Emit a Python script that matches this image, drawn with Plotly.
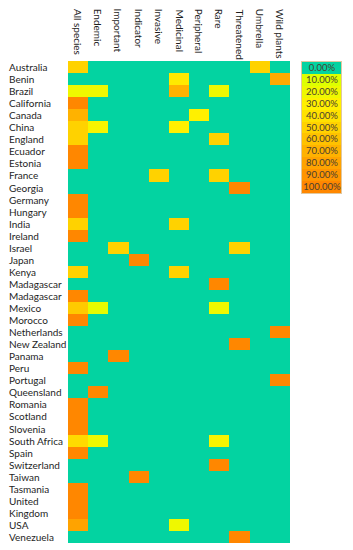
import plotly.graph_objects as go

countries = ["Australia", "Benin", "Brazil", "California", "Canada", "China", "England",
             "Ecuador", "Estonia", "France", "Georgia", "Germany", "Hungary", "India",
             "Ireland", "Israel", "Japan", "Kenya", "Madagascar", "Madagascar", "Mexico",
             "Morocco", "Netherlands", "New Zealand", "Panama", "Peru", "Portugal",
             "Queensland", "Romania", "Scotland", "Slovenia", "South Africa", "Spain",
             "Switzerland", "Taiwan", "Tasmania", "United<br>Kingdom", "USA", "Venezuela"]

categories = ["All species", "Endemic", "Important", "Indicator", "Invasive", "Medicinal",
              "Peripheral", "Rare", "Threatened", "Umbrella", "Wild plants"]

#               Aus  Ben  Bra  Cal  Can  Chi  Eng  Ecu  Est  Fra  Geo  Ger  Hun  Ind  Ire  Isr  Jap  Ken  Mad  Mad  Mex  Mor  Net  NZ   Pan  Per  Por  Que  Rom  Sco  Slo  SAf  Spa  Swi  Tai  Tas  UK   USA  Ven
all_species = [0.5, 0.0, 0.2, 1.0, 0.7, 0.5, 0.5, 1.0, 1.0, 0.0, 0.0, 1.0, 1.0, 0.5, 1.0, 0.0, 0.0, 0.5, 0.0, 1.0, 0.55, 1.0, 0.0, 0.0, 0.0, 1.0, 0.0, 0.0, 1.0, 1.0, 1.0, 0.45, 1.0, 0.0, 0.0, 1.0, 1.0, 0.8, 0.0]
endemic     = [0.0, 0.0, 0.2, 0.0, 0.0, 0.25, 0.0, 0.0, 0.0, 0.0, 0.0, 0.0, 0.0, 0.0, 0.0, 0.0, 0.0, 0.0, 0.0, 0.0, 0.15, 0.0, 0.0, 0.0, 0.0, 0.0, 0.0, 1.0, 0.0, 0.0, 0.0, 0.2, 0.0, 0.0, 0.0, 0.0, 0.0, 0.0, 0.0]
important   = [0.0, 0.0, 0.0, 0.0, 0.0, 0.0, 0.0, 0.0, 0.0, 0.0, 0.0, 0.0, 0.0, 0.0, 0.0, 0.5, 0.0, 0.0, 0.0, 0.0, 0.0, 0.0, 0.0, 0.0, 1.0, 0.0, 0.0, 0.0, 0.0, 0.0, 0.0, 0.0, 0.0, 0.0, 0.0, 0.0, 0.0, 0.0, 0.0]
indicator   = [0.0, 0.0, 0.0, 0.0, 0.0, 0.0, 0.0, 0.0, 0.0, 0.0, 0.0, 0.0, 0.0, 0.0, 0.0, 0.0, 1.0, 0.0, 0.0, 0.0, 0.0, 0.0, 0.0, 0.0, 0.0, 0.0, 0.0, 0.0, 0.0, 0.0, 0.0, 0.0, 0.0, 0.0, 1.0, 0.0, 0.0, 0.0, 0.0]
invasive    = [0.0, 0.0, 0.0, 0.0, 0.0, 0.0, 0.0, 0.0, 0.0, 0.5, 0.0, 0.0, 0.0, 0.0, 0.0, 0.0, 0.0, 0.0, 0.0, 0.0, 0.0, 0.0, 0.0, 0.0, 0.0, 0.0, 0.0, 0.0, 0.0, 0.0, 0.0, 0.0, 0.0, 0.0, 0.0, 0.0, 0.0, 0.0, 0.0]
medicinal   = [0.0, 0.35, 0.7, 0.0, 0.0, 0.3, 0.0, 0.0, 0.0, 0.0, 0.0, 0.0, 0.0, 0.5, 0.0, 0.0, 0.0, 0.5, 0.0, 0.0, 0.0, 0.0, 0.0, 0.0, 0.0, 0.0, 0.0, 0.0, 0.0, 0.0, 0.0, 0.0, 0.0, 0.0, 0.0, 0.0, 0.0, 0.2, 0.0]
peripheral  = [0.0, 0.0, 0.0, 0.0, 0.3, 0.0, 0.0, 0.0, 0.0, 0.0, 0.0, 0.0, 0.0, 0.0, 0.0, 0.0, 0.0, 0.0, 0.0, 0.0, 0.0, 0.0, 0.0, 0.0, 0.0, 0.0, 0.0, 0.0, 0.0, 0.0, 0.0, 0.0, 0.0, 0.0, 0.0, 0.0, 0.0, 0.0, 0.0]
rare        = [0.0, 0.0, 0.2, 0.0, 0.0, 0.0, 0.5, 0.0, 0.0, 0.5, 0.0, 0.0, 0.0, 0.0, 0.0, 0.0, 0.0, 0.0, 1.0, 0.0, 0.2, 0.0, 0.0, 0.0, 0.0, 0.0, 0.0, 0.0, 0.0, 0.0, 0.0, 0.25, 0.0, 1.0, 0.0, 0.0, 0.0, 0.0, 0.0]
threatened  = [0.0, 0.0, 0.0, 0.0, 0.0, 0.0, 0.0, 0.0, 0.0, 0.0, 1.0, 0.0, 0.0, 0.0, 0.0, 0.5, 0.0, 0.0, 0.0, 0.0, 0.0, 0.0, 0.0, 1.0, 0.0, 0.0, 0.0, 0.0, 0.0, 0.0, 0.0, 0.0, 0.0, 0.0, 0.0, 0.0, 0.0, 0.0, 1.0]
umbrella    = [0.5, 0.0, 0.0, 0.0, 0.0, 0.0, 0.0, 0.0, 0.0, 0.0, 0.0, 0.0, 0.0, 0.0, 0.0, 0.0, 0.0, 0.0, 0.0, 0.0, 0.0, 0.0, 0.0, 0.0, 0.0, 0.0, 0.0, 0.0, 0.0, 0.0, 0.0, 0.0, 0.0, 0.0, 0.0, 0.0, 0.0, 0.0, 0.0]
wild_plants = [0.0, 0.75, 0.0, 0.0, 0.0, 0.0, 0.0, 0.0, 0.0, 0.0, 0.0, 0.0, 0.0, 0.0, 0.0, 0.0, 0.0, 0.0, 0.0, 0.0, 0.0, 0.0, 1.0, 0.0, 0.0, 0.0, 1.0, 0.0, 0.0, 0.0, 0.0, 0.0, 0.0, 0.0, 0.0, 0.0, 0.0, 0.0, 0.0]

scale_values = [0.0, 0.1, 0.2, 0.3, 0.4, 0.5, 0.6, 0.7, 0.8, 0.9, 1.0]

columns = [all_species, endemic, important, indicator, invasive, medicinal,
           peripheral, rare, threatened, umbrella, wild_plants]
z = [[col[i] for col in columns] for i in range(len(countries))]

# row edges: wrapped labels occupy one row unit per text line
edges = [0]
for c in countries:
    edges.append(edges[-1] + len(c.split("<br>")))

TEAL = "#03D3A1"
cscale = [[0, TEAL], [0.05, TEAL], [0.05, "#D6FF00"], [0.1, "#DEFF00"],
          [0.3, "#FFF000"], [0.5, "#FFD200"], [0.75, "#FFAA00"], [1, "#FF8700"]]

FONT = "Lato"
TXT = "#1e1e1e"

fig = go.Figure()
fig.add_trace(go.Heatmap(
    z=z, x=categories, y=edges, coloraxis="coloraxis",
    xgap=0, ygap=0, hoverinfo="skip"))

fig.add_trace(go.Heatmap(
    z=[[v] for v in scale_values], x=["scale"], y=list(range(len(scale_values))),
    coloraxis="coloraxis", xaxis="x2", yaxis="y2",
    text=[[f"{v:.2%}"] for v in scale_values], texttemplate="%{text}",
    textfont=dict(family=FONT, size=9.5, color="#4a4030"), hoverinfo="skip", ygap=0))

W, H = 353, 550
ml, mr, mt, mb = 68, 5, 61, 7
pw = W - ml - mr
ph = H - mt - mb

annotations = []
for i, name in enumerate(countries):
    for k, line in enumerate(name.split("<br>")):
        annotations.append(dict(
            text=line, xref="paper", yref="y", x=(7 - ml) / pw, y=edges[i] + k + 0.5,
            xanchor="left", yanchor="middle", align="left", showarrow=False,
            font=dict(family=FONT, size=10, color=TXT)))
for cat in categories:
    annotations.append(dict(
        text=cat, xref="x", yref="paper", x=cat, y=1 + (mt - 7) / ph,
        xanchor="center", yanchor="top", textangle=90, showarrow=False,
        font=dict(family=FONT, size=10, color=TXT)))

fig.update_layout(
    width=W, height=H,
    margin=dict(l=ml, r=mr, t=mt, b=mb),
    paper_bgcolor="white", plot_bgcolor="white",
    coloraxis=dict(colorscale=cscale, cmin=0, cmax=1, showscale=False),
    xaxis=dict(domain=[0, 222 / pw], showticklabels=False, ticks="",
               showgrid=False, zeroline=False),
    yaxis=dict(range=[edges[-1], 0], showticklabels=False, ticks="",
               showgrid=False, zeroline=False),
    xaxis2=dict(domain=[(302 - ml) / pw, (341 - ml) / pw], anchor="y2",
                showticklabels=False, ticks="", showgrid=False, zeroline=False,
                showline=True, mirror=True, linecolor="#e0c8a0", linewidth=1),
    yaxis2=dict(domain=[1 - (193 - mt) / ph, 1 - (62 - mt) / ph], anchor="x2",
                autorange="reversed", showticklabels=False, ticks="",
                showgrid=False, zeroline=False,
                showline=True, mirror=True, linecolor="#e0c8a0", linewidth=1),
    annotations=annotations,
    showlegend=False,
)

fig.write_html("out.html", config={"displayModeBar": False},
               post_script="document.body.style.margin='0';")
